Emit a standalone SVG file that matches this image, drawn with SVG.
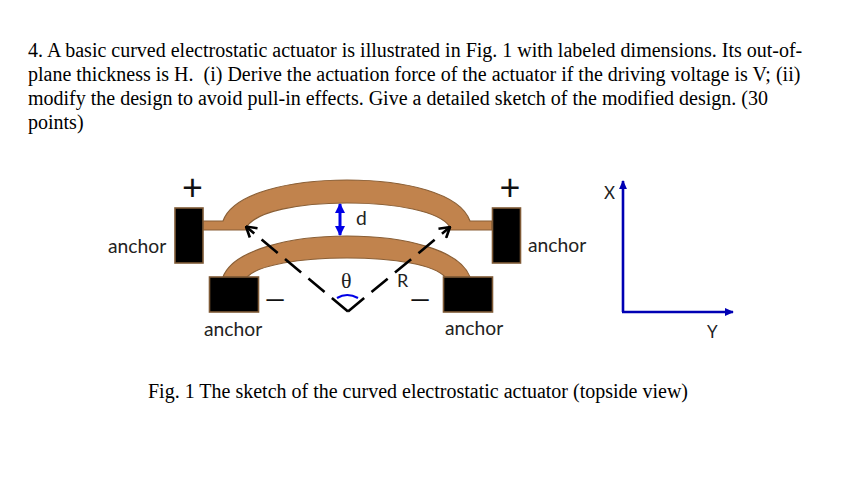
<svg xmlns="http://www.w3.org/2000/svg" width="862" height="482" viewBox="0 0 862 482">
<style>
.q{font-family:"Liberation Serif","Times New Roman",serif;font-size:20px;fill:#000}
.l{font-family:Lato,"Open Sans",sans-serif;font-size:19.300px;fill:#222}
.s{font-family:Lato,"Open Sans",sans-serif;font-size:36px;fill:#111;text-anchor:middle}
.g{font-family:"Liberation Serif",serif;font-size:22px;fill:#222}
.anchor{fill:#000;stroke:#7f5a36;stroke-width:1.6}
.beam{fill:#c1834d;stroke:#8a5f36;stroke-width:1.2;stroke-linejoin:round}
.dash{fill:none;stroke:#000;stroke-width:2.6}
</style>
<defs>
<marker id="open" viewBox="0 0 14 14" refX="13" refY="7" markerWidth="14" markerHeight="14" markerUnits="userSpaceOnUse" orient="auto"><path d="M3 1 L13 7 L3 13" fill="none" stroke="#000" stroke-width="2.6"/></marker>
<marker id="bd" viewBox="0 0 10 10" refX="9" refY="5" markerWidth="10" markerHeight="10" markerUnits="userSpaceOnUse" orient="auto-start-reverse"><path d="M0 0 L10 5 L0 10 Z" fill="#0000e6"/></marker>
<marker id="ax" viewBox="0 0 10 10" refX="9" refY="5" markerWidth="9" markerHeight="8" markerUnits="userSpaceOnUse" orient="auto" preserveAspectRatio="none"><path d="M0 0 L10 5 L0 10 Z" fill="#0000b4"/></marker>
</defs>
<rect width="862" height="482" fill="#fff"/>
<g id="question">
<text class="q" x="28" y="57">4. A basic curved electrostatic actuator is illustrated in Fig. 1 with labeled dimensions. Its out-of-</text>
<text class="q" x="28" y="81">plane thickness is H.&#160; (i) Derive the actuation force of the actuator if the driving voltage is V; (ii)</text>
<text class="q" x="28" y="105">modify the design to avoid pull-in effects. Give a detailed sketch of the modified design. (30</text>
<text class="q" x="28" y="129">points)</text>
</g>
<g id="upper-beam">
<path class="beam" d="M203 221 L223 221 C233 193 290 180 347 180 C405 180 460 193 470 221 L492 221 L492 230 L450 230 L450 227 C440 211 395 203 347 203 C300 203 255 211 246 228 L246 230 L203 230 Z"/>
</g>
<g id="lower-beam">
<path class="beam" d="M223 277 C233 250 290 236 347 236 C405 236 460 250 470 277 L445 277 C435 265 395 258 347 258 C300 258 258 265 247 277 Z"/>
</g>
<g id="anchor-top-left"><rect class="anchor" x="175" y="208" width="28" height="55"/><text class="l" x="108" y="253">anchor</text><text class="s" x="192.500" y="200">+</text></g>
<g id="anchor-top-right"><rect class="anchor" x="492.500" y="208" width="28" height="55"/><text class="l" x="528" y="252">anchor</text><text class="s" x="510" y="200">+</text></g>
<g id="anchor-bottom-left"><rect class="anchor" x="209.500" y="277" width="49" height="35"/><text class="l" x="204" y="336">anchor</text><text class="s" x="275" y="308" style="font-size:26px">—</text></g>
<g id="anchor-bottom-right"><rect class="anchor" x="443.500" y="277" width="49" height="35"/><text class="l" x="445" y="335">anchor</text><text class="s" x="420" y="308" style="font-size:26px">—</text></g>
<g id="connectors">
<path class="dash" marker-end="url(#open)" stroke-dasharray="21 9.500" d="M348 311.500 L246 226.500"/>
<path class="dash" marker-end="url(#open)" stroke-dasharray="21 9.500" d="M348 311.500 L450 227"/>
<path d="M340 204 L340 235" fill="none" stroke="#0000e6" stroke-width="3" marker-start="url(#bd)" marker-end="url(#bd)"/>
<path d="M337 298 Q347 292 358 298" fill="none" stroke="#0000e6" stroke-width="2.200"/>
<path d="M623 312 L623 181" fill="none" stroke="#0000b4" stroke-width="2.600" marker-end="url(#ax)"/>
<path d="M622 312 L733 312" fill="none" stroke="#0000b4" stroke-width="2.600" marker-end="url(#ax)"/>
</g>
<g id="labels">
<text class="l" x="356" y="225">d</text>
<text class="g" x="341" y="288">θ</text>
<text class="l" x="397" y="287" style="font-size:18px">R</text>
<text class="l" x="604" y="199" style="font-size:17px">X</text>
<text class="l" x="707" y="338" style="font-size:17px">Y</text>
<text class="q" x="148" y="398">Fig. 1 The sketch of the curved electrostatic actuator (topside view)</text>
</g>
</svg>
